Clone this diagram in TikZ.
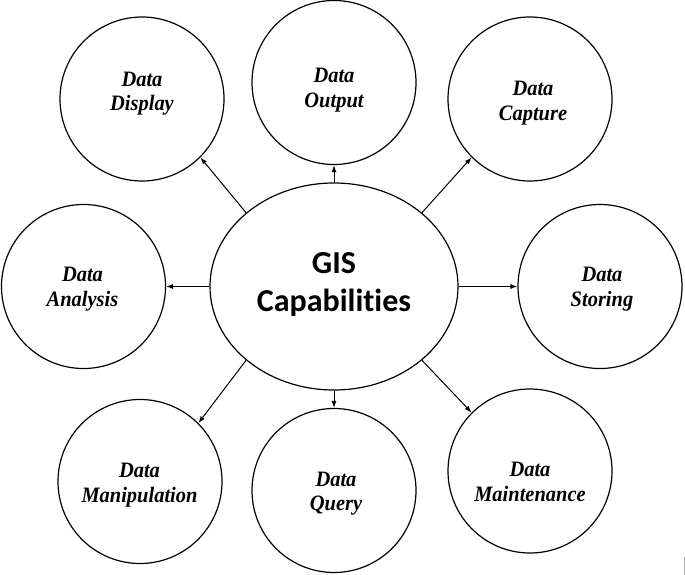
\documentclass[tikz,border=0pt]{standalone}
\usepackage{fontspec}
\setmainfont{Liberation Serif}
\newfontfamily\lblfont{Liberation Serif}[FakeStretch=0.93]
\newfontfamily\capfont{Carlito}[Ligatures=NoCommon]
\usetikzlibrary{shapes.geometric,arrows.meta}
\tikzset{
  capnode/.style={circle,draw,line width=1.2pt,minimum size=164pt,inner sep=0pt},
  hubnode/.style={ellipse,draw,line width=1.2pt,minimum width=248pt,minimum height=207pt,inner sep=0pt},
  lbl/.style={anchor=north,align=center,inner sep=0pt,
    font=\lblfont\fontsize{22}{24.5}\selectfont\bfseries\itshape},
  hubtxt/.style={anchor=north,align=center,inner sep=0pt,
    font=\capfont\fontsize{32}{38}\selectfont\bfseries},
  arr/.style={line width=1pt,-{Latex[length=7pt,width=5pt]}}
}
\begin{document}
\begin{tikzpicture}[x=1pt,y=-1pt]
\useasboundingbox (0,0) rectangle (685,575);
\fill[white] (0,0) rectangle (685,575);
% hub
\node[hubnode] (gis) at (334,286.5) {};
\node[hubtxt] (gist) at (334,252) {GIS\\Capabilities};
% outer circles
\node[capnode] (disp) at (142,99) {};
\node[capnode] (outp) at (334,82.5) {};
\node[capnode] (capt) at (530,99) {};
\node[capnode] (anal) at (83.5,286.5) {};
\node[capnode] (stor) at (600,286.5) {};
\node[capnode] (mani) at (140,481.5) {};
\node[capnode] (quer) at (334,490.5) {};
\node[capnode] (main) at (530,471) {};
% labels
\node[lbl] (dispt) at (142,71.7) {Data\\Display};
\node[lbl] (outpt) at (334,68.3) {Data\\Output};
\node[lbl] (captt) at (533,81) {Data\\Capture};
\node[lbl] (analt) at (82.5,267.3) {Data\\Analysis};
\node[lbl] (stort) at (602,267.3) {Data\\Storing};
\node[lbl] (manit) at (139.5,463.3) {Data\\Manipulation};
\node[lbl] (quert) at (336,471.7) {Data\\Query};
\node[lbl] (maint) at (530,462.3) {Data\\Maintenance};
% connectors
\draw[arr] (gis.140) -- (disp.-45);
\draw[arr] (gis.90) -- (outp.-90);
\draw[arr] (gis.40) -- (capt.-135);
\draw[arr] (gis.180) -- (anal.0);
\draw[arr] (gis.0) -- (stor.180);
\draw[arr] (gis.-140) -- (mani.45);
\draw[arr] (gis.-90) -- (quer.90);
\draw[arr] (gis.-40) -- (main.135);
% edge artifact
\coordinate (e1) at (684,557);
\coordinate (e2) at (684,575);
\draw[gray!60,line width=0.8pt] (e1) -- (e2);
\end{tikzpicture}
\end{document}
